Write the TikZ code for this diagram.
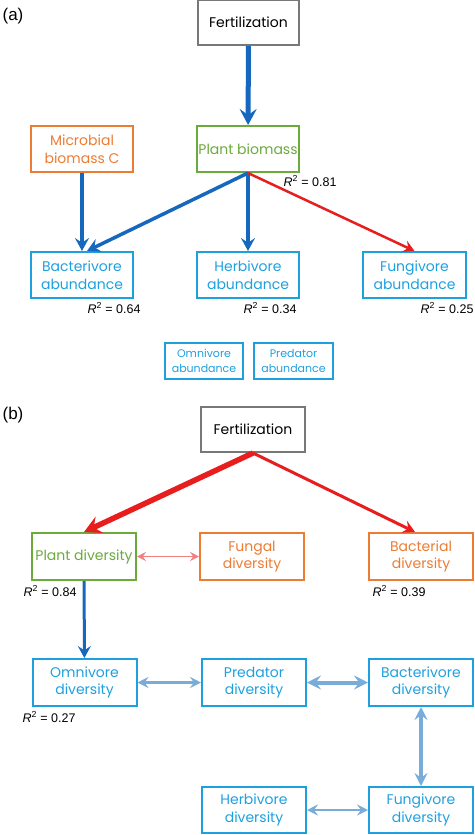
\documentclass[tikz,border=0pt]{standalone}
\usepackage{fontspec}
\setmainfont{Poppins}
\newfontfamily\rfont{Liberation Sans}
\usetikzlibrary{arrows.meta}

\definecolor{faunablue}{RGB}{30,160,222}
\definecolor{plantgreen}{RGB}{108,170,60}
\definecolor{microorange}{RGB}{236,124,52}
\definecolor{fertgray}{RGB}{120,120,120}
\definecolor{pathblue}{RGB}{22,104,190}
\definecolor{pathred}{RGB}{232,30,30}
\definecolor{lightred}{RGB}{240,128,128}
\definecolor{lightblue}{RGB}{122,172,218}

\newcommand{\rsqr}[1]{\textit{R}\textsuperscript{2} = #1}

\tikzset{
  box/.style = {draw, line width = 2pt, align = center, inner sep = 0pt,
                minimum width = 102pt, minimum height = 46pt,
                font = \fontsize{14}{17.5}\selectfont},
  fertbox/.style = {box, draw = fertgray, text = black},
  plantbox/.style = {box, draw = plantgreen, text = plantgreen},
  microbox/.style = {box, draw = microorange, text = microorange},
  faunabox/.style = {box, draw = faunablue, text = faunablue},
  smallbox/.style = {faunabox, minimum width = 78pt, minimum height = 36pt,
                     font = \fontsize{11}{14.5}\selectfont},
  rsq/.style = {font = \rfont\fontsize{12.5}{14}\selectfont, inner sep = 0pt},
  tag/.style = {font = \rfont\fontsize{17}{20}\selectfont, inner sep = 0pt},
  tip/.style = {Stealth[length = 6pt 2, width = 7pt 2, inset = 2pt 0.8]},
  path/.style = {-{Stealth[length = 6pt 2, width = 7pt 2, inset = 2pt 0.8]}},
  both/.style = {{Stealth[length = 6pt 2, width = 6pt 2, inset = 2pt 0.8]}-{Stealth[length = 6pt 2, width = 6pt 2, inset = 2pt 0.8]}}
}

\begin{document}
\begin{tikzpicture}[x = 1pt, y = -1pt]
            \useasboundingbox (0,0) rectangle (474,835);

            % (a) abundance
            \node [tag] (taga) at (13,16) {(a)};

            \node [fertbox, minimum width = 101pt, minimum height = 45pt] (fertA) at (248.5,22.5) {Fertilization};
            \node [plantbox] (plantA) at (248,149) {Plant biomass};
            \node [microbox] (microA) at (82,149) {Microbial\\biomass C};

            \node [faunabox] (bactA) at (82,275) {Bacterivore\\abundance};
            \node [faunabox] (herbA) at (248,275) {Herbivore\\abundance};
            \node [faunabox, minimum width = 103pt] (fungA) at (414.5,275) {Fungivore\\abundance};

            \node [smallbox] (omniA) at (204,361) {Omnivore\\abundance};
            \node [smallbox, minimum width = 79pt] (predA) at (293.5,361) {Predator\\abundance};

            \node [rsq] (rplantA) at (310,181) {\rsqr{0.81}};
            \node [rsq] (rbactA) at (114,308) {\rsqr{0.64}};
            \node [rsq] (rherbA) at (270,308) {\rsqr{0.34}};
            \node [rsq] (rfungA) at (447,308) {\rsqr{0.25}};

            \draw [path, pathblue, line width = 5pt] (fertA) -- (plantA);
            \draw [path, pathblue, line width = 3.5pt] (microA) -- (bactA);
            \draw [path, pathblue, line width = 3.5pt] (plantA.south) -- ([xshift = 5pt]bactA.north);
            \draw [path, pathblue, line width = 3.5pt] (plantA) -- (herbA);
            \draw [path, pathred, line width = 2.5pt] (plantA.south) -- (fungA.north);

            % (b) diversity
            \node [tag] (tagb) at (13,415) {(b)};

            \node [fertbox, minimum width = 104pt, minimum height = 45pt] (fertB) at (253,429.5) {Fertilization};
            \node [plantbox, minimum width = 104pt, minimum height = 47pt] (plantB) at (84,556.5) {Plant diversity};
            \node [microbox, minimum width = 104pt, minimum height = 47pt] (fungB) at (252,556.5) {Fungal\\diversity};
            \node [microbox, minimum width = 104pt, minimum height = 47pt] (bactB) at (421,556.5) {Bacterial\\diversity};

            \node [faunabox, minimum width = 104pt, minimum height = 47pt] (omniB) at (84.5,682.5) {Omnivore\\diversity};
            \node [faunabox, minimum width = 104pt, minimum height = 47pt] (predB) at (254,682.5) {Predator\\diversity};
            \node [faunabox, minimum width = 104pt, minimum height = 47pt] (bacvB) at (421,682.5) {Bacterivore\\diversity};
            \node [faunabox, minimum width = 104pt, minimum height = 46pt] (herbB) at (254,810) {Herbivore\\diversity};
            \node [faunabox, minimum width = 104pt, minimum height = 46pt] (funvB) at (421,810) {Fungivore\\diversity};

            \node [rsq] (rplantB) at (50,591) {\rsqr{0.84}};
            \node [rsq] (rbactB) at (399,591) {\rsqr{0.39}};
            \node [rsq] (romniB) at (49,717) {\rsqr{0.27}};

            \draw [path, pathred, line width = 5.5pt] (fertB.south) -- (plantB.north);
            \draw [path, pathred, line width = 3pt] (fertB.south) -- ([xshift = -6pt]bactB.north);
            \draw [both, lightred, line width = 1.5pt] (plantB) -- (fungB);
            \draw [path, pathblue, line width = 3pt] (plantB) -- (omniB);

            \draw [both, lightblue, line width = 2.5pt] (omniB) -- (predB);
            \draw [both, lightblue, line width = 4pt] (predB) -- (bacvB);
            \draw [both, lightblue, line width = 3.5pt] (bacvB) -- (funvB);
            \draw [both, lightblue, line width = 2.5pt] (herbB) -- (funvB);
        \end{tikzpicture}
\end{document}
